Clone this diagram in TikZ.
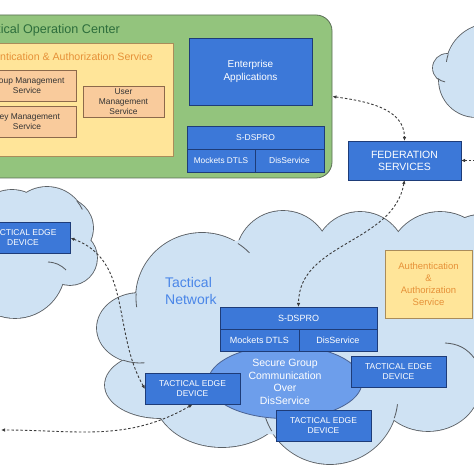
\documentclass[tikz,border=0pt]{standalone}
\usepackage{fontspec}
\setmainfont{Liberation Sans}
\usetikzlibrary{positioning, arrows.meta, shapes.geometric}

\definecolor{tocfill}{RGB}{147,196,125}
\definecolor{tocline}{RGB}{90,110,85}
\definecolor{toctext}{RGB}{45,110,60}
\definecolor{authfill}{RGB}{255,229,153}
\definecolor{authline}{RGB}{170,140,90}
\definecolor{authtext}{RGB}{230,145,56}
\definecolor{mgmtfill}{RGB}{249,203,156}
\definecolor{mgmtline}{RGB}{140,105,75}
\definecolor{bluefill}{RGB}{60,120,216}
\definecolor{blueline}{RGB}{30,60,120}
\definecolor{cloudfill}{RGB}{207,226,243}
\definecolor{cloudline}{RGB}{90,95,100}
\definecolor{groupfill}{RGB}{109,158,235}
\definecolor{nettext}{RGB}{74,134,232}
\definecolor{flowline}{RGB}{60,60,60}

\newcommand{\fsz}[2]{\fontsize{#1}{#2}\selectfont}
% cloud lobes: x/y/x radius/y radius
\newcommand{\netlobes}{202/176/66/65, 283/216/47/47, 360/216/46/46, 440/209/53/53, 480/164/60/95, 428/89/52/46, 330/78/68/68, 222/79/68/52, 160/89/55/33, 140/146/43/35}
\newcommand{\leftlobes}{12/246/38/38, 47/248/39/39, 63/246/30/30, 70/216/27/27, 15/206/50/50}
\newcommand{\toplobes}{490/406/44/44, 447/406/14/14, 476/394/37/37}

\begin{document}
\begin{tikzpicture}[
    x=1pt, y=1pt,
    blue-box/.style={draw=blueline, fill=bluefill, line width=0.8pt, text=white, align=center, inner sep=1pt, outer sep=0pt},
    ted-box/.style={blue-box, minimum width=95pt, minimum height=31pt, font=\fsz{8.5}{10}},
    mgmt-box/.style={draw=mgmtline, fill=mgmtfill, line width=0.8pt, text=black!80, align=center, inner sep=1pt, font=\fsz{8.4}{10.3}},
    cloud-edge/.style={draw=cloudline, line width=1.7pt},
    cloud-fill/.style={fill=cloudfill},
    cloud-arc/.style={draw=cloudline, line width=0.85pt},
    flow/.style={draw=flowline, line width=0.9pt, dash pattern=on 2.5pt off 2pt},
    duo/.style={flow, {Latex[length=4pt,width=3.5pt]}-{Latex[length=4pt,width=3.5pt]}},
    uno/.style={flow, -{Latex[length=4pt,width=3.5pt]}},
  ]
\useasboundingbox (0,0) rectangle (474,474);
\clip (0,0) rectangle (474,474);
\fill[white] (0,0) rectangle (474,474);

% Tactical network cloud (edges first, fill over them)
\foreach \cx/\cy/\rx/\ry in \netlobes {
  \draw[cloud-edge] (\cx,\cy) ellipse [x radius=\rx, y radius=\ry];
}
\foreach \cx/\cy/\rx/\ry in \netlobes {
  \fill[cloud-fill] (\cx,\cy) ellipse [x radius=\rx, y radius=\ry];
}
\fill[cloud-fill] (290,139) ellipse [x radius=160, y radius=100];
\draw[cloud-arc] (202,176) ++(57:66 and 65) arc[start angle=57, end angle=44, x radius=66, y radius=65];
\draw[cloud-arc] (202,176) ++(176:66 and 65) arc[start angle=176, end angle=188, x radius=66, y radius=65];
\draw[cloud-arc] (140,146) ++(247:43 and 35) arc[start angle=247, end angle=276, x radius=43, y radius=35];
\draw[cloud-arc] (330,78) ++(211:68 and 68) arc[start angle=211, end angle=199, radius=68];
\draw[cloud-arc] (330,78) ++(-19:68 and 68) arc[start angle=-19, end angle=-7, radius=68];
\draw[cloud-arc] (445,131) to[bend left=25] (475,115);

% Left cloud
\foreach \cx/\cy/\rx/\ry in \leftlobes {
  \draw[cloud-edge] (\cx,\cy) ellipse [x radius=\rx, y radius=\ry];
}
\foreach \cx/\cy/\rx/\ry in \leftlobes {
  \fill[cloud-fill] (\cx,\cy) ellipse [x radius=\rx, y radius=\ry];
}
\fill[cloud-fill] (30,224) ellipse [x radius=45, y radius=40];
\draw[cloud-arc] (47,248) ++(40:39 and 39) arc[start angle=40, end angle=25, radius=39];
\draw[cloud-arc] (48,212) to[bend left=20] (66,204);

% Top right cloud
\foreach \cx/\cy/\rx/\ry in \toplobes {
  \draw[cloud-edge] (\cx,\cy) ellipse [x radius=\rx, y radius=\ry];
}
\foreach \cx/\cy/\rx/\ry in \toplobes {
  \fill[cloud-fill] (\cx,\cy) ellipse [x radius=\rx, y radius=\ry];
}
\fill[cloud-fill] (480,399) circle [radius=30];
\draw[cloud-arc] (490,406) ++(162:44 and 44) arc[start angle=162, end angle=172, radius=44];
\draw[cloud-arc] (447,406) ++(228:14 and 14) arc[start angle=228, end angle=262, radius=14];

% Operation center
\node[draw=tocline, fill=tocfill, line width=0.8pt, rounded corners=16pt,
    minimum width=372pt, minimum height=163pt] (toc) at (146,377.5) {};
\node[anchor=east, text=toctext, font=\fsz{12.6}{14}, inner sep=0pt] (toc-title) at (120,444) {Tactical Operation Center};

% Authentication and authorization block
\node[draw=authline, fill=authfill, line width=0.8pt, minimum width=213pt, minimum height=113pt] (auth1) at (66.5,374.5) {};
\node[anchor=east, text=authtext, font=\fsz{10.6}{12}, inner sep=0pt] (auth1-title) at (153,417) {Authentication \& Authorization Service};
\node[mgmt-box, minimum width=98pt, minimum height=31pt] (grp) at (27,388.5) {Group Management\\Service};
\node[mgmt-box, minimum width=98pt, minimum height=31pt] (key) at (27,352.5) {Key Management\\Service};
\node[mgmt-box, minimum width=81pt, minimum height=31pt] (usr) at (123.5,372.5) {User\\Management\\Service};

% Enterprise side
\node[blue-box, minimum width=123pt, minimum height=67pt, font=\fsz{10}{13}] (ent) at (250.5,402.5) {Enterprise\\Applications};
\node[blue-box, minimum width=137pt, minimum height=23pt, font=\fsz{8.5}{10}] (sd1) at (255.5,336.5) {S-DSPRO};
\node[blue-box, below=0pt of sd1.south west, anchor=north west, minimum width=68pt, minimum height=23pt, font=\fsz{8.3}{10}] (mk1) {Mockets DTLS};
\node[blue-box, right=0pt of mk1, minimum width=69pt, minimum height=23pt, font=\fsz{8.5}{10}] (ds1) {DisService};

\node[blue-box, minimum width=113pt, minimum height=39pt, font=\fsz{10.5}{12}] (fed) at (404.5,313.5) {FEDERATION\\SERVICES};

% Tactical network content
\node[anchor=west, text=nettext, font=\fsz{14}{17}, align=left, inner sep=0pt] (net-label) at (165,183.5) {Tactical\\Network};
\node[draw=authline, fill=authfill, line width=0.8pt, minimum width=87pt, minimum height=68pt,
    text=authtext, align=center, font=\fsz{9.5}{11.8}] (auth2) at (428.5,190) {Authentication\\\&\\Authorization\\Service};

\node[ellipse, draw=blueline!80, fill=groupfill, line width=0.8pt, minimum width=154pt, minimum height=72pt,
    text=white, align=center, font=\fsz{10.5}{12.5}] (sgc) at (285,92) {Secure Group\\Communication\\Over\\DisService};

\node[blue-box, minimum width=157pt, minimum height=22pt, font=\fsz{9}{11}] (sd2) at (298.5,156) {S-DSPRO};
\node[blue-box, below=0pt of sd2.south west, anchor=north west, minimum width=79pt, minimum height=22pt, font=\fsz{9}{11}] (mk2) {Mockets DTLS};
\node[blue-box, right=0pt of mk2, minimum width=78pt, minimum height=22pt, font=\fsz{9}{11}] (ds2) {DisService};

\node[ted-box] (ted1) at (23,236) {TACTICAL EDGE\\DEVICE};
\node[ted-box] (ted2) at (192.5,85) {TACTICAL EDGE\\DEVICE};
\node[ted-box] (ted3) at (398.5,102) {TACTICAL EDGE\\DEVICE};
\node[ted-box] (ted4) at (323.5,48) {TACTICAL EDGE\\DEVICE};

% Dashed links
\coordinate (off-right) at (480,313.5);
\coordinate (off-left) at (1,44);
\draw[duo] (toc.east) to[out=-8, in=90] (fed.north);
\draw[uno] (off-right) -- (fed.east);
\draw[duo] (fed.south) to[out=-100, in=90] (sd2.north);
\draw[duo] (ted1.east) to[out=-20, in=120] (ted2.west);
\draw[duo] (ted2.south) to[out=-150, in=0] (off-left);

\end{tikzpicture}
\end{document}
